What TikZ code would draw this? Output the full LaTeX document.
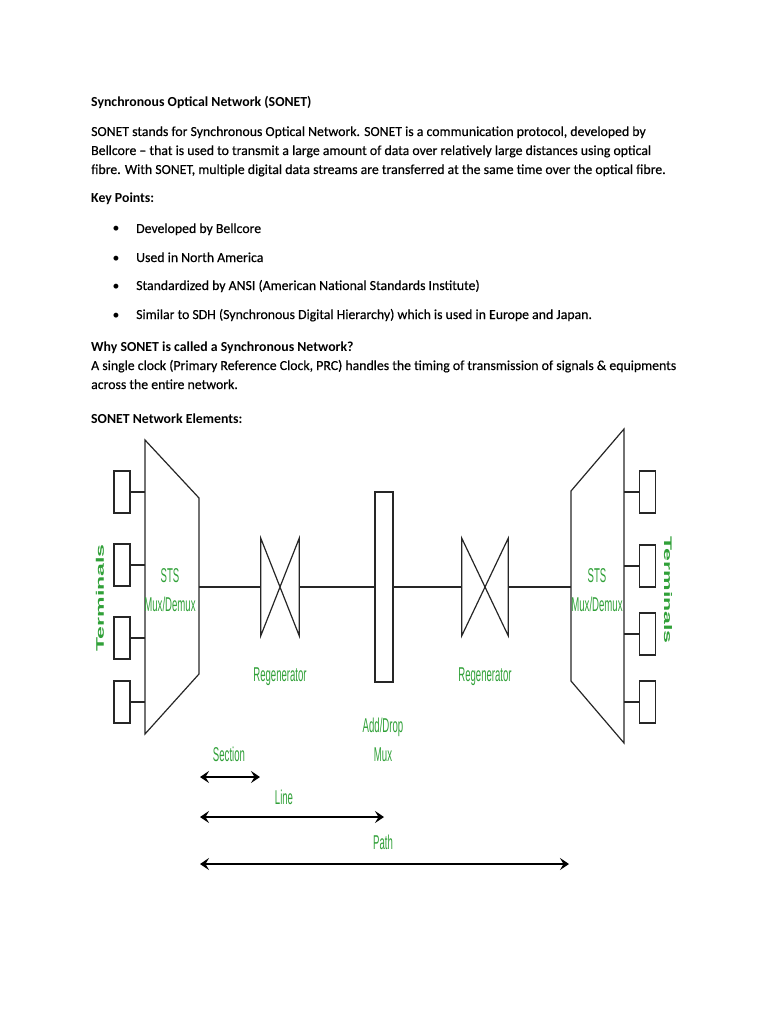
\documentclass[tikz,border=0pt]{standalone}
\usepackage{fontspec}
\setmainfont{Carlito}
\newfontfamily\bodyfont[FakeBold=0.4, Ligatures=TeX]{Carlito}
\newfontfamily\labelfont[FakeStretch=0.48]{Liberation Sans}
\newfontfamily\termfont[FakeStretch=2.1]{Liberation Sans}
\usetikzlibrary{arrows.meta, positioning}
\definecolor{lblgreen}{RGB}{48,160,56}

\begin{document}
\begin{tikzpicture}[
    x=1pt, y=-1pt,
    para/.style={
        anchor=base west,
        inner sep=0pt,
        font=\bodyfont\fontsize{13.8}{19}\selectfont
    },
    head/.style={
        anchor=base west,
        inner sep=0pt,
        font=\fontsize{13.8}{19}\selectfont\bfseries
    },
    dot/.style={
        anchor=base,
        inner sep=0pt,
        font=\fontsize{13.8}{19}\selectfont
    },
    terminal/.style={
        rectangle,
        draw=black!85,
        line width=1.2pt,
        minimum width=16pt,
        minimum height=42pt,
        inner sep=0pt
    },
    regen/.style={
        rectangle,
        minimum height=97pt,
        inner sep=0pt
    },
    adm/.style={
        rectangle,
        draw=black!85,
        line width=1.2pt,
        minimum width=18pt,
        minimum height=190pt,
        inner sep=0pt
    },
    lbl/.style={
        text=lblgreen,
        align=center,
        inner sep=0pt,
        font=\labelfont\fontsize{20}{29}\selectfont
    },
    termlbl/.style={
        text=lblgreen,
        inner sep=0pt,
        font=\termfont\fontsize{11}{14}\selectfont\bfseries
    },
    wire/.style={draw=black!85, line width=1.2pt},
    dimarrow/.style={{Stealth[length=9pt, width=12pt, inset=3.5pt]}-{Stealth[length=9pt, width=12pt, inset=3.5pt]}, line width=2pt}
]
\useasboundingbox (0,0) rectangle (768,1024);

% text above the figure
\node[head] (title) at (91,107) {Synchronous Optical Network (SONET)};
\node[para] (p1) at (91,136) {SONET stands for Synchronous Optical Network. SONET is a communication protocol, developed by};
\node[para] (p2) at (91,155) {Bellcore – that is used to transmit a large amount of data over relatively large distances using optical};
\node[para] (p3) at (91,174) {fibre. With SONET, multiple digital data streams are transferred at the same time over the optical fibre.};

\node[head] (keys) at (91,203) {Key Points:};
\foreach \n/\y in {1/233, 2/262, 3/290, 4/319}
    \node[dot] (d\n) at (116,\y) {•};
\node[para] (b1) at (136,233) {Developed by Bellcore};
\node[para] (b2) at (136,262) {Used in North America};
\node[para] (b3) at (136,290) {Standardized by ANSI (American National Standards Institute)};
\node[para] (b4) at (136,319) {Similar to SDH (Synchronous Digital Hierarchy) which is used in Europe and Japan.};

\node[head] (why) at (91,351) {Why SONET is called a Synchronous Network?};
\node[para] (c1) at (91,370) {A single clock (Primary Reference Clock, PRC) handles the timing of transmission of signals \& equipments};
\node[para] (c2) at (91,389) {across the entire network.};

\node[head] (elems) at (91,423) {SONET Network Elements:};

% mux/demux blocks
\draw[wire] (145,440) -- (199,498) -- (199,674) -- (145,734) -- cycle;
\draw[wire] (624,429) -- (571,491) -- (571,681) -- (624,743) -- cycle;
\coordinate (muxLin) at (145,587);
\coordinate (muxL) at (199,587);
\coordinate (muxR) at (571,587);
\coordinate (muxRin) at (624,587);

% terminals
\foreach \n/\y in {1/492, 2/565, 3/638, 4/702}
    \node[terminal] (tl\n) at (122,\y) {};
\foreach \n/\y in {1/492, 2/566, 3/634, 4/702}
    \node[terminal] (tr\n) at (647.5,\y) {};
\foreach \n in {1,...,4} {
    \draw[wire] (tl\n.east) -- (tl\n.east -| muxLin);
    \draw[wire] (tr\n.west) -- (tr\n.west -| muxRin);
}

% regenerators and add/drop mux
\node[regen, minimum width=38pt] (reg1) at (280,587) {};
\node[regen, minimum width=46pt] (reg2) at (485,587) {};
\node[adm] (adm) at (384,587) {};
\foreach \r in {reg1, reg2}
    \draw[wire] (\r.north west) -- (\r.south west) -- (\r.north east) -- (\r.south east) -- cycle;

\draw[wire] (muxL) -- (reg1.west);
\draw[wire] (reg1.east) -- (adm.west);
\draw[wire] (adm.east) -- (reg2.west);
\draw[wire] (reg2.east) -- (muxR);

% labels
\node[lbl] (stsL) at (170,590) {STS\\Mux/Demux};
\node[lbl] (stsR) at (597,590) {STS\\Mux/Demux};
\node[termlbl, rotate=90] (termL) at (100,598) {Terminals};
\node[termlbl, rotate=-90] (termR) at (668,590) {Terminals};
\node[lbl] (reg1lbl) at (280,677) {Regenerator};
\node[lbl] (reg2lbl) at (485,677) {Regenerator};
\node[lbl] (admlbl) at (383,740) {Add/Drop\\Mux};

% section / line / path
\coordinate (s0) at (200,777);
\coordinate (s1) at (260,777);
\coordinate (l0) at (200,817);
\coordinate (l1) at (384,817);
\coordinate (q0) at (200,864);
\coordinate (q1) at (569,864);
\draw[dimarrow] (s0) -- (s1);
\draw[dimarrow] (l0) -- (l1);
\draw[dimarrow] (q0) -- (q1);
\node[lbl] (seclbl) at (229,754) {Section};
\node[lbl] (linelbl) at (284,797) {Line};
\node[lbl] (pathlbl) at (383,842) {Path};

\end{tikzpicture}
\end{document}
